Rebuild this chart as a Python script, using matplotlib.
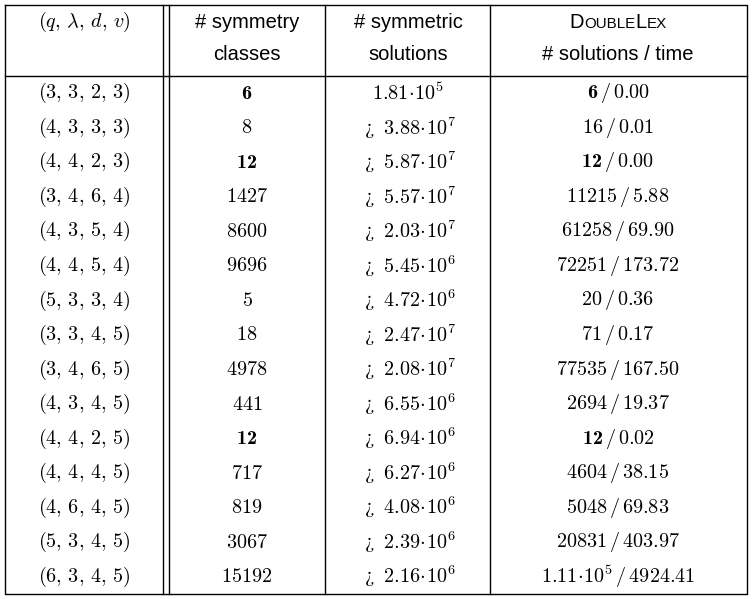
import matplotlib
matplotlib.use('Agg')
import matplotlib.pyplot as plt
from matplotlib.offsetbox import TextArea, HPacker, AnnotationBbox

plt.rcParams['mathtext.fontset'] = 'custom'
plt.rcParams['mathtext.rm'] = 'cmr10'
plt.rcParams['mathtext.it'] = 'cmmi10'
plt.rcParams['mathtext.bf'] = 'cmb10'
plt.rcParams['mathtext.fallback'] = 'cm'
plt.rcParams['axes.formatter.use_mathtext'] = True

params = ['(3,3,2,3)', '(4,3,3,3)', '(4,4,2,3)', '(3,4,6,4)', '(4,3,5,4)', '(4,4,5,4)',
          '(5,3,3,4)', '(3,3,4,5)', '(3,4,6,5)', '(4,3,4,5)', '(4,4,2,5)', '(4,4,4,5)',
          '(4,6,4,5)', '(5,3,4,5)', '(6,3,4,5)']
classes = ['6', '8', '12', '1427', '8600', '9696', '5', '18', '4978', '441', '12', '717',
           '819', '3067', '15192']
bold_rows = [0, 2, 10]
sym_mant = ['1.81', '3.88', '5.87', '5.57', '2.03', '5.45', '4.72', '2.47', '2.08', '6.55',
            '6.94', '6.27', '4.08', '2.39', '2.16']
sym_exp = [5, 7, 7, 7, 7, 6, 6, 7, 7, 6, 6, 6, 6, 6, 6]
sym_lower = [False] + [True] * 14
dl_sols = ['6', '16', '12', '11215', '61258', '72251', '20', '71', '77535', '2694', '12',
           '4604', '5048', '20831', r'1.11\!\cdot\!10^5']
dl_time = ['0.00', '0.01', '0.00', '5.88', '69.90', '173.72', '0.36', '0.17', '167.50',
           '19.37', '0.02', '38.15', '69.83', '403.97', '4924.41']

W, H = 752, 599
fig = plt.figure(figsize=(W / 100, H / 100), dpi=100)
ax = fig.add_axes([0, 0, 1, 1])
ax.set_xlim(0, W)
ax.set_ylim(H, 0)
ax.axis('off')

left, right, top, bottom = 5, 747, 5, 594
head_bottom = 76
lw = 1.0
ax.plot([left, right, right, left, left], [top, top, bottom, bottom, top], 'k-', lw=lw)
ax.plot([left, right], [head_bottom, head_bottom], 'k-', lw=lw)
for x in [163, 169, 325, 490]:
    ax.plot([x, x], [top, bottom], 'k-', lw=lw)

cx = [84, 247, 408, 618]
fs = 14.5
sans = 'Liberation Sans'

ax.text(cx[0], 22, r'$(q,\,\lambda,\,d,\,v)$', ha='center', va='center', fontsize=fs)
ax.text(cx[1], 22, '# symmetry', ha='center', va='center', fontsize=fs, family=sans)
ax.text(cx[1], 55, 'classes', ha='center', va='center', fontsize=fs, family=sans)
ax.text(cx[2], 22, '# symmetric', ha='center', va='center', fontsize=fs, family=sans)
ax.text(cx[2], 55, 'solutions', ha='center', va='center', fontsize=fs, family=sans)
ax.text(cx[3], 55, '# solutions / time', ha='center', va='center', fontsize=fs, family=sans)

# small caps "DoubleLex"
parts = [('D', fs), ('OUBLE', fs * 0.75), ('L', fs), ('EX', fs * 0.75)]
boxes = [TextArea(t, textprops=dict(fontsize=s, family=sans)) for t, s in parts]
pack = HPacker(children=boxes, pad=0, sep=0, align='baseline')
ab = AnnotationBbox(pack, (cx[3], 22), xycoords='data', frameon=False, box_alignment=(0.5, 0.5))
ax.add_artist(ab)

row_h = (bottom - head_bottom) / len(params)
for i in range(len(params)):
    y = head_bottom + row_h * (i + 0.5)
    p = params[i].strip('()').split(',')
    ax.text(cx[0], y, r'$(' + r',\,'.join(p) + ')$', ha='center', va='center', fontsize=fs)
    c = classes[i]
    if i in bold_rows:
        c = r'\mathbf{' + c + '}'
    ax.text(cx[1], y, '$' + c + '$', ha='center', va='center', fontsize=fs)
    s = sym_mant[i] + r'\!\cdot\!10^{' + str(sym_exp[i]) + '}'
    if sym_lower[i]:
        s = r'>\ ' + s
    ax.text(cx[2], y, '$' + s + '$', ha='center', va='center', fontsize=fs)
    d = dl_sols[i]
    if i in bold_rows:
        d = r'\mathbf{' + d + '}'
    ax.text(cx[3], y, '$' + d + r'\,/\,' + dl_time[i] + '$', ha='center', va='center', fontsize=fs)

fig.savefig('out.png', dpi=100)
